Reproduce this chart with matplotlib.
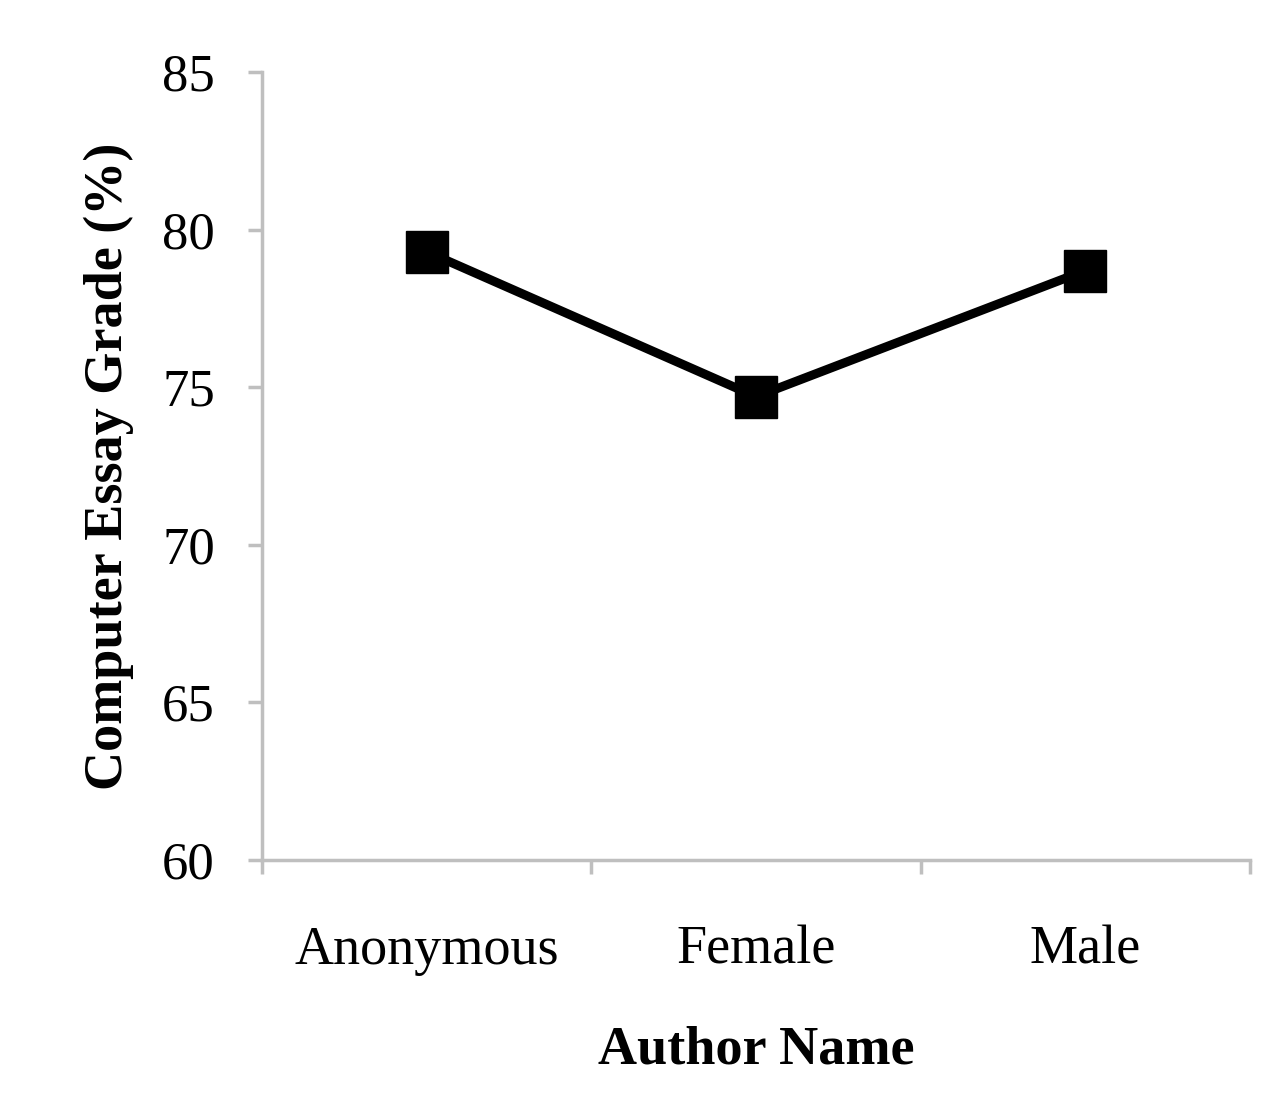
import matplotlib
matplotlib.use("Agg")
import matplotlib.pyplot as plt
from matplotlib.ticker import FixedLocator

categories = ["Anonymous", "Female", "Male"]
grades = [79.3, 74.7, 78.7]
y_ticks = [60, 65, 70, 75, 80, 85]

plt.rcParams['font.family'] = ['Liberation Serif', 'DejaVu Serif']

fig = plt.figure(figsize=(12.74, 10.94), dpi=100)
ax = fig.add_axes([262/1274, 1-860/1094, (1250-262)/1274, (860-72)/1094])

x = list(range(len(categories)))
ax.plot(x, grades, color='black', linewidth=6.5, marker='s', markersize=30,
        markerfacecolor='black', markeredgecolor='black')

ax.set_xlim(-0.5, len(categories) - 0.5)
ax.set_ylim(60, 85)
ax.set_yticks(y_ticks)
ax.set_xticks(x)
ax.set_xticklabels(categories)
ax.xaxis.set_minor_locator(FixedLocator([i - 0.5 for i in range(len(categories) + 1)]))

grey = '#bfbfbf'
for side in ['top', 'right']:
    ax.spines[side].set_visible(False)
for side in ['left', 'bottom']:
    ax.spines[side].set_color(grey)
    ax.spines[side].set_linewidth(2.5)

ax.tick_params(axis='y', direction='out', length=10, width=2.5, color=grey,
               labelsize=38, pad=24)
ax.tick_params(axis='x', which='major', length=0, labelsize=39, pad=47)
ax.tick_params(axis='x', which='minor', direction='out', length=10, width=2.5, color=grey)

ax.set_ylabel("Computer Essay Grade (%)", fontsize=39, fontweight='bold', labelpad=20)
ax.set_xlabel("Author Name", fontsize=39, fontweight='bold', labelpad=36)

fig.savefig("out.png", dpi=100)
